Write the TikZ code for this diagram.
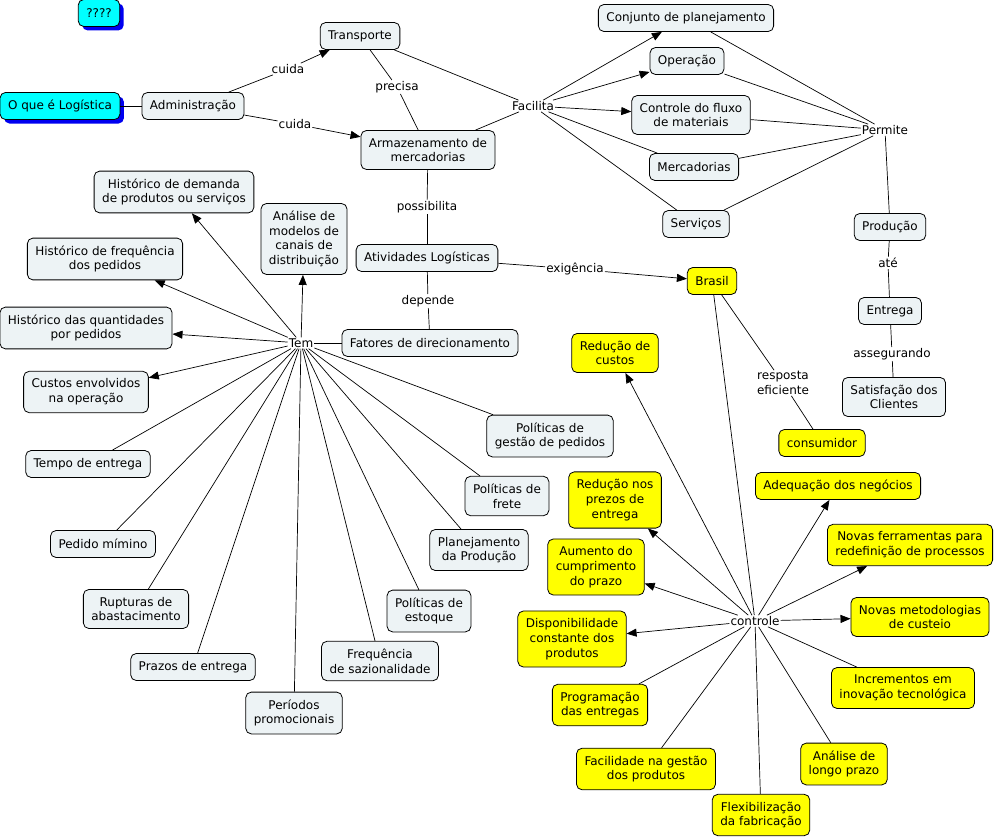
\documentclass[tikz,border=0pt]{standalone}
\usepackage{fontspec}
\setmainfont{DejaVu Sans}
\usepackage{tikz}
\usetikzlibrary{arrows.meta, shadows}

\definecolor{conceptgray}{RGB}{237,243,245}
\definecolor{conceptcyan}{RGB}{0,255,255}
\definecolor{conceptyellow}{RGB}{255,255,0}
\definecolor{shadowblue}{RGB}{0,0,240}

\begin{document}
\begin{tikzpicture}[
  x=1pt, y=-1pt,
  font=\fontsize{12}{14.7}\selectfont,
  concept/.style={draw, rounded corners=5.5pt, fill=conceptgray, align=center,
    inner xsep=8pt, inner ysep=7.5pt, minimum height=27pt, line width=0.8pt},
  yellowbox/.style={concept, fill=conceptyellow},
  cyanbox/.style={concept, fill=conceptcyan,
    drop shadow={shadow xshift=4pt, shadow yshift=-4pt, fill=shadowblue, opacity=1}},
  linkword/.style={inner sep=1pt, align=center},
  arrow/.style={-{Triangle[length=10pt, width=8pt]}, line width=0.7pt},
  link/.style={line width=0.7pt},
]
  \useasboundingbox (0,0) rectangle (996,840);

  % upper part
  \node[cyanbox] (quest)  at (99,13)   {????};
  \node[cyanbox] (oque)   at (60,106)  {O que é Logística};
  \node[concept] (adm)    at (193,106) {Administração};
  \node[concept] (transp) at (360,36)  {Transporte};
  \node[concept] (armaz)  at (428,150) {Armazenamento de\\mercadorias};
  \node[concept] (conj)   at (686,18)  {Conjunto de planejamento};
  \node[concept] (oper)   at (687,61)  {Operação};
  \node[concept] (fluxo)  at (691,115) {Controle do fluxo\\de materiais};
  \node[concept] (merc)   at (694,167) {Mercadorias};
  \node[concept] (serv)   at (696,224) {Serviços};
  \node[concept] (prod)   at (890,227) {Produção};
  \node[concept] (entr)   at (890,311) {Entrega};
  \node[concept] (satisf) at (894,397) {Satisfação dos\\Clientes};
  \node[concept] (ativ)   at (427,258) {Atividades Logísticas};
  \node[concept] (fatores) at (430,343) {Fatores de direcionamento};
  \node[yellowbox] (brasil) at (712,281) {Brasil};
  \node[yellowbox] (consum) at (822,443) {consumidor};

  \node[linkword] (cuidaA)   at (288,69)  {cuida};
  \node[linkword] (cuidaB)   at (295,124) {cuida};
  \node[linkword] (precisa)  at (397,87)  {precisa};
  \node[linkword] (facilita) at (533,106) {Facilita};
  \node[linkword] (permite)  at (885,130) {Permite};
  \node[linkword] (ate)      at (888,263) {até};
  \node[linkword] (assegura) at (892,354) {assegurando};
  \node[linkword] (possib)   at (427,207) {possibilita};
  \node[linkword] (depende)  at (428,301) {depende};
  \node[linkword] (exig)     at (575,269) {exigência};
  \node[linkword] (resposta) at (783,383) {resposta\\eficiente};

  % left star
  \node[linkword] (tem) at (301,343) {Tem};
  \node[concept] (hdem)    at (174,192) {Histórico de demanda\\de produtos ou serviços};
  \node[concept] (analise) at (304,239) {Análise de\\modelos de\\canais de\\distribuição};
  \node[concept] (hfreq)   at (105,259) {Histórico de frequência\\dos pedidos};
  \node[concept] (hquant)  at (86,328)  {Histórico das quantidades\\por pedidos};
  \node[concept] (custos)  at (86,392)  {Custos envolvidos\\na operação};
  \node[concept] (tempo)   at (88,464)  {Tempo de entrega};
  \node[concept] (pedido)  at (103,544) {Pedido mímino};
  \node[concept] (ruptura) at (136,609) {Rupturas de\\abastacimento};
  \node[concept] (prazos)  at (193,667) {Prazos de entrega};
  \node[concept] (periodos) at (294,713) {Períodos\\promocionais};
  \node[concept] (sazon)   at (380,661) {Frequência\\de sazionalidade};
  \node[concept] (pestoque) at (429,611) {Políticas de\\estoque};
  \node[concept] (planej)  at (479,550) {Planejamento\\da Produção};
  \node[concept] (pfrete)  at (507,496) {Políticas de\\frete};
  \node[concept] (pgestao) at (550,436) {Políticas de\\gestão de pedidos};

  % right star
  \node[linkword] (controle) at (755,621) {controle};
  \node[yellowbox] (redcust)  at (615,353) {Redução de\\custos};
  \node[yellowbox] (redprazo) at (615,500) {Redução nos\\prezos de\\entrega};
  \node[yellowbox] (aumento)  at (596,567) {Aumento do\\cumprimento\\do prazo};
  \node[yellowbox] (disp)     at (572,639) {Disponibilidade\\constante dos\\produtos};
  \node[yellowbox] (prog)     at (600,705) {Programação\\das entregas};
  \node[yellowbox] (facil)    at (646,769) {Facilidade na gestão\\dos produtos};
  \node[yellowbox] (flex)     at (761,815) {Flexibilização\\da fabricação};
  \node[yellowbox] (longo)    at (844,764) {Análise de\\longo prazo};
  \node[yellowbox] (increm)   at (903,688) {Incrementos em\\inovação tecnológica};
  \node[yellowbox] (novmet)   at (920,617) {Novas metodologias\\de custeio};
  \node[yellowbox] (novferr)  at (910,545) {Novas ferramentas para\\redefinição de processos};
  \node[yellowbox] (adeq)     at (838,486) {Adequação dos negócios};

  % connectors, upper part
  \draw[link] (oque) -- (adm);
  \draw[link] (adm) -- (cuidaA);
  \draw[arrow] (cuidaA) -- (transp);
  \draw[link] (adm) -- (cuidaB);
  \draw[arrow] (cuidaB) -- (armaz);
  \draw[link] (transp) -- (precisa);
  \draw[link] (precisa) -- (armaz);
  \draw[link] (transp) -- (facilita);
  \draw[link] (armaz) -- (facilita);
  \draw[arrow] (facilita) -- (conj);
  \draw[arrow] (facilita) -- (oper);
  \draw[arrow] (facilita) -- (fluxo);
  \draw[link] (facilita) -- (merc);
  \draw[link] (facilita) -- (serv);
  \draw[link] (conj) -- (permite);
  \draw[link] (oper) -- (permite);
  \draw[link] (fluxo) -- (permite);
  \draw[link] (merc) -- (permite);
  \draw[link] (serv) -- (permite);
  \draw[link] (permite) -- (prod);
  \draw[link] (prod) -- (ate);
  \draw[link] (ate) -- (entr);
  \draw[link] (entr) -- (assegura);
  \draw[link] (assegura) -- (satisf);
  \draw[link] (armaz) -- (possib);
  \draw[link] (possib) -- (ativ);
  \draw[link] (ativ) -- (depende);
  \draw[link] (depende) -- (fatores);
  \draw[link] (ativ) -- (exig);
  \draw[arrow] (exig) -- (brasil);
  \draw[link] (brasil) -- (resposta);
  \draw[link] (resposta) -- (consum);
  \draw[link] (brasil) -- (controle);

  % connectors, left star
  \draw[link] (fatores) -- (tem);
  \draw[arrow] (tem) -- (hdem);
  \draw[arrow] (tem) -- (analise);
  \draw[arrow] (tem) -- (hfreq);
  \draw[arrow] (tem) -- (hquant);
  \draw[arrow] (tem) -- (custos);
  \draw[link] (tem) -- (tempo);
  \draw[link] (tem) -- (pedido);
  \draw[link] (tem) -- (ruptura);
  \draw[link] (tem) -- (prazos);
  \draw[link] (tem) -- (periodos);
  \draw[link] (tem) -- (sazon);
  \draw[link] (tem) -- (pestoque);
  \draw[link] (tem) -- (planej);
  \draw[link] (tem) -- (pfrete);
  \draw[link] (tem) -- (pgestao);

  % connectors, right star
  \draw[arrow] (controle) -- (redcust);
  \draw[arrow] (controle) -- (redprazo);
  \draw[arrow] (controle) -- (aumento);
  \draw[arrow] (controle) -- (disp);
  \draw[arrow] (controle) -- (adeq);
  \draw[arrow] (controle) -- (novferr);
  \draw[arrow] (controle) -- (novmet);
  \draw[link] (controle) -- (prog);
  \draw[link] (controle) -- (facil);
  \draw[link] (controle) -- (flex);
  \draw[link] (controle) -- (longo);
  \draw[link] (controle) -- (increm);
\end{tikzpicture}
\end{document}
